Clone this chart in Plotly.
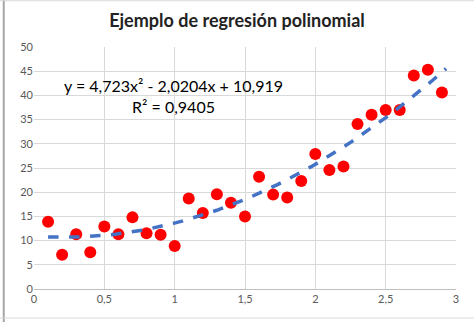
import numpy as np
import plotly.graph_objects as go

x_vals = [0.1, 0.2, 0.3, 0.4, 0.5, 0.6, 0.7, 0.8, 0.9, 1.0,
          1.1, 1.2, 1.3, 1.4, 1.5, 1.6, 1.7, 1.8, 1.9, 2.0,
          2.1, 2.2, 2.3, 2.4, 2.5, 2.6, 2.7, 2.8, 2.9]
y_vals = [13.9, 7.1, 11.3, 7.6, 12.9, 11.3, 14.8, 11.5, 11.2, 8.9,
          18.7, 15.7, 19.6, 17.8, 15.0, 23.2, 19.5, 18.9, 22.3, 27.9,
          24.6, 25.3, 34.1, 36.0, 37.0, 37.0, 44.1, 45.3, 40.6]

# Trendline coefficients as printed on the chart
coef_a, coef_b, coef_c = 4.723, -2.0204, 10.919
trend_x = np.linspace(0.1, 2.93, 60)
trend_y = np.polyval([coef_a, coef_b, coef_c], trend_x)

eq_text = "y = 4,723x² - 2,0204x + 10,919<br>R² = 0,9405"
title_text = "Ejemplo de regresión polinomial"

FONT = "Lato, Open Sans, sans-serif"

fig = go.Figure()
fig.add_trace(go.Scatter(x=x_vals, y=y_vals, mode="markers",
                         marker=dict(color="#FF0000", size=12),
                         showlegend=False))
fig.add_trace(go.Scatter(x=trend_x, y=trend_y, mode="lines",
                         line=dict(color="#4472C4", width=3.5, dash="dash"),
                         showlegend=False))

fig.add_annotation(x=0.99, y=39.9, xref="x", yref="y", text=eq_text,
                   showarrow=False, font=dict(family=FONT, size=16, color="#000"),
                   align="center")

fig.update_layout(
    width=474, height=322,
    margin=dict(l=34, r=18, t=47, b=33),
    paper_bgcolor="white", plot_bgcolor="white",
    separators=",.",
    title=dict(text="<b>" + title_text + "</b>", x=0.5, xanchor="center",
               y=0.935, yanchor="middle",
               font=dict(family=FONT, size=18, color="#222")),
    xaxis=dict(range=[0, 3], dtick=0.5, showgrid=True, gridcolor="#D9D9D9",
               zeroline=False, showline=True, linecolor="#BFBFBF",
               tickfont=dict(family=FONT, size=11, color="#595959"),
               ticks="", fixedrange=True),
    yaxis=dict(range=[0, 50], dtick=5, showgrid=True, gridcolor="#D9D9D9",
               zeroline=False, showline=False,
               tickfont=dict(family=FONT, size=11, color="#595959"),
               ticks="", fixedrange=True),
    shapes=[
        dict(type="line", xref="paper", yref="paper", x0=-0.0717, x1=-0.0717, y0=-0.2, y1=1.2,
             line=dict(color="#A6A6A6", width=2)),
        dict(type="line", xref="paper", yref="paper", x0=-0.1, x1=1.1, y0=1.191, y1=1.191,
             line=dict(color="#D9D9D9", width=1)),
        dict(type="line", xref="paper", yref="paper", x0=-0.1, x1=1.1, y0=-0.12, y1=-0.12,
             line=dict(color="#D9D9D9", width=1)),
    ],
)

fig.write_html("out.html")
